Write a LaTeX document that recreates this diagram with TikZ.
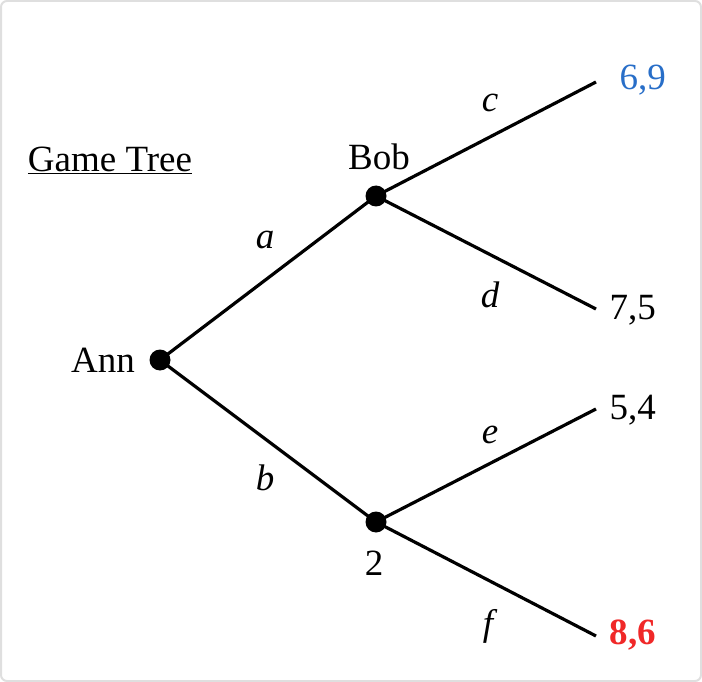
\documentclass[tikz,border=0pt]{standalone}
\usepackage{fontspec}
\setmainfont{Liberation Serif}
\begin{document}
\begin{tikzpicture}[x=1pt,y=-1pt,
  dot/.style={circle,fill=black,inner sep=0pt,minimum size=21pt},
  edge/.style={line width=3.2pt},
  lbl/.style={font=\fontsize{37}{44}\selectfont},
  el/.style={font=\fontsize{37}{44}\selectfont\itshape}]
\path[use as bounding box] (0,0) rectangle (702,682);
\draw[gray!25,line width=2pt,rounded corners=6pt] (1,1) rectangle (701,681);
\node[dot] (ann) at (160,360) {};
\node[dot] (bob) at (376,196) {};
\node[dot] (two) at (376,522) {};
\coordinate (lc) at (596,82);
\coordinate (ld) at (596,309);
\coordinate (le) at (596,409);
\coordinate (lf) at (596,636);
\draw[edge] (ann.center) -- (bob.center);
\draw[edge] (ann.center) -- (two.center);
\draw[edge] (bob.center) -- (lc);
\draw[edge] (bob.center) -- (ld);
\draw[edge] (two.center) -- (le);
\draw[edge] (two.center) -- (lf);
\node[lbl] (tt) at (110,160) {\underline{Game Tree}};
\node[lbl] (ab) at (103,360) {Ann};
\node[lbl] (bb) at (379,157) {Bob};
\node[lbl] (tb) at (374,563) {2};
\node[el] (la) at (265,240) {a};
\node[el] (lb) at (265,478) {b};
\node[el] (lcc) at (490,103) {c};
\node[el] (ldd) at (490,295) {d};
\node[el] (lee) at (490,435) {e};
\node[el] (lff) at (488,626) {f};
\node[lbl,text={rgb,255:red,40;green,110;blue,200},anchor=west] (p1) at (616,80) {6,9};
\node[lbl,anchor=west] (p2) at (606,310) {7,5};
\node[lbl,anchor=west] (p3) at (606,410) {5,4};
\node[lbl,font=\fontsize{37}{44}\selectfont\bfseries,text={rgb,255:red,240;green,40;blue,40},anchor=west] (p4) at (606,635) {8,6};
\end{tikzpicture}
\end{document}
